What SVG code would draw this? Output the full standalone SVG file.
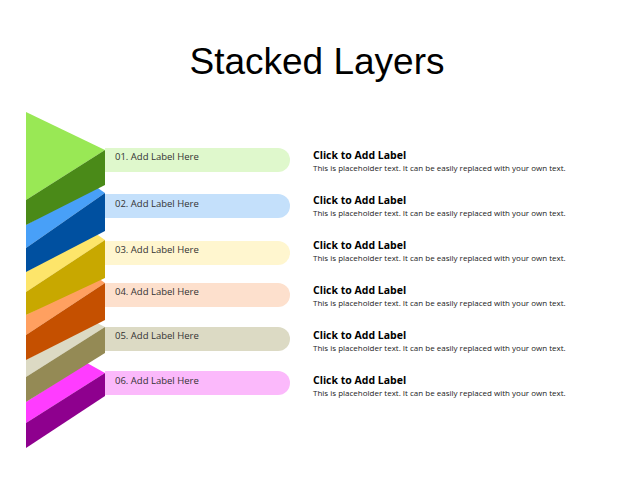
<svg xmlns="http://www.w3.org/2000/svg" width="640" height="480" viewBox="0 0 640 480">
<style>
.lbl{font-family:"Open Sans","Liberation Sans",sans-serif;font-size:9.5px;fill:#333}
.h{font-family:"Open Sans","Liberation Sans",sans-serif;font-size:10.5px;font-weight:bold;fill:#000}
.d{font-family:"Open Sans","Liberation Sans",sans-serif;font-size:8px;fill:#222}
</style>
<rect width="640" height="480" fill="#fff"/>
<text x="317" y="74" text-anchor="middle" font-family="Liberation Sans,sans-serif" font-size="37" fill="#000">Stacked Layers</text>
<g id="connectors"/>
<g id="layer6">
<path d="M105,371H278a12,12 0 0 1 0,24H105Z" fill="#fbb9fb"/>
<polygon points="26,402 87,363 105,373 26,423" fill="#ff3cff"/>
<polygon points="26,423 105,373 105,396 26,448" fill="#8e008e"/>
<text class="lbl" x="115" y="384">06. Add Label Here</text>
<text class="h" x="313" y="384">Click to Add Label</text>
<text class="d" x="313" y="396">This is placeholder  text.  It can be easily replaced  with your own text.</text>
</g>
<g id="layer5">
<path d="M105,327H278a12,12 0 0 1 0,24H105Z" fill="#dcdac4"/>
<polygon points="26,360 95,322 105,327 26,377" fill="#dcdac4"/>
<polygon points="26,377 105,327 105,353 26,402" fill="#948a55"/>
<text class="lbl" x="115" y="339">05. Add Label Here</text>
<text class="h" x="313" y="339">Click to Add Label</text>
<text class="d" x="313" y="351">This is placeholder  text.  It can be easily replaced  with your own text.</text>
</g>
<g id="layer4">
<path d="M105,283H278a12,12 0 0 1 0,24H105Z" fill="#fde0cd"/>
<polygon points="26,315 98,278 105,283 26,335" fill="#ffa060"/>
<polygon points="26,335 105,283 105,320 26,360" fill="#c55000"/>
<text class="lbl" x="115" y="295">04. Add Label Here</text>
<text class="h" x="313" y="294">Click to Add Label</text>
<text class="d" x="313" y="306">This is placeholder  text.  It can be easily replaced  with your own text.</text>
</g>
<g id="layer3">
<path d="M105,241H278a12,12 0 0 1 0,24H105Z" fill="#fff6cf"/>
<polygon points="26,272 95,233 105,240 26,292" fill="#fde56a"/>
<polygon points="26,292 105,240 105,278 26,315" fill="#c8a800"/>
<text class="lbl" x="115" y="253">03. Add Label Here</text>
<text class="h" x="313" y="249">Click to Add Label</text>
<text class="d" x="313" y="261">This is placeholder  text.  It can be easily replaced  with your own text.</text>
</g>
<g id="layer2">
<path d="M105,194H278a12,12 0 0 1 0,24H105Z" fill="#c4e0fb"/>
<polygon points="26,225 95,186 105,193 26,248" fill="#48a0f8"/>
<polygon points="26,248 105,193 105,231 26,272" fill="#0050a0"/>
<text class="lbl" x="115" y="207">02. Add Label Here</text>
<text class="h" x="313" y="204">Click to Add Label</text>
<text class="d" x="313" y="216">This is placeholder  text.  It can be easily replaced  with your own text.</text>
</g>
<g id="layer1">
<path d="M105,148H278a12,12 0 0 1 0,24H105Z" fill="#dff8cc"/>
<polygon points="26,112 105,150 26,200" fill="#99e855"/>
<polygon points="26,200 105,150 105,185 26,225" fill="#4a8a18"/>
<text class="lbl" x="115" y="160">01. Add Label Here</text>
<text class="h" x="313" y="159">Click to Add Label</text>
<text class="d" x="313" y="171">This is placeholder  text.  It can be easily replaced  with your own text.</text>
</g>
</svg>
